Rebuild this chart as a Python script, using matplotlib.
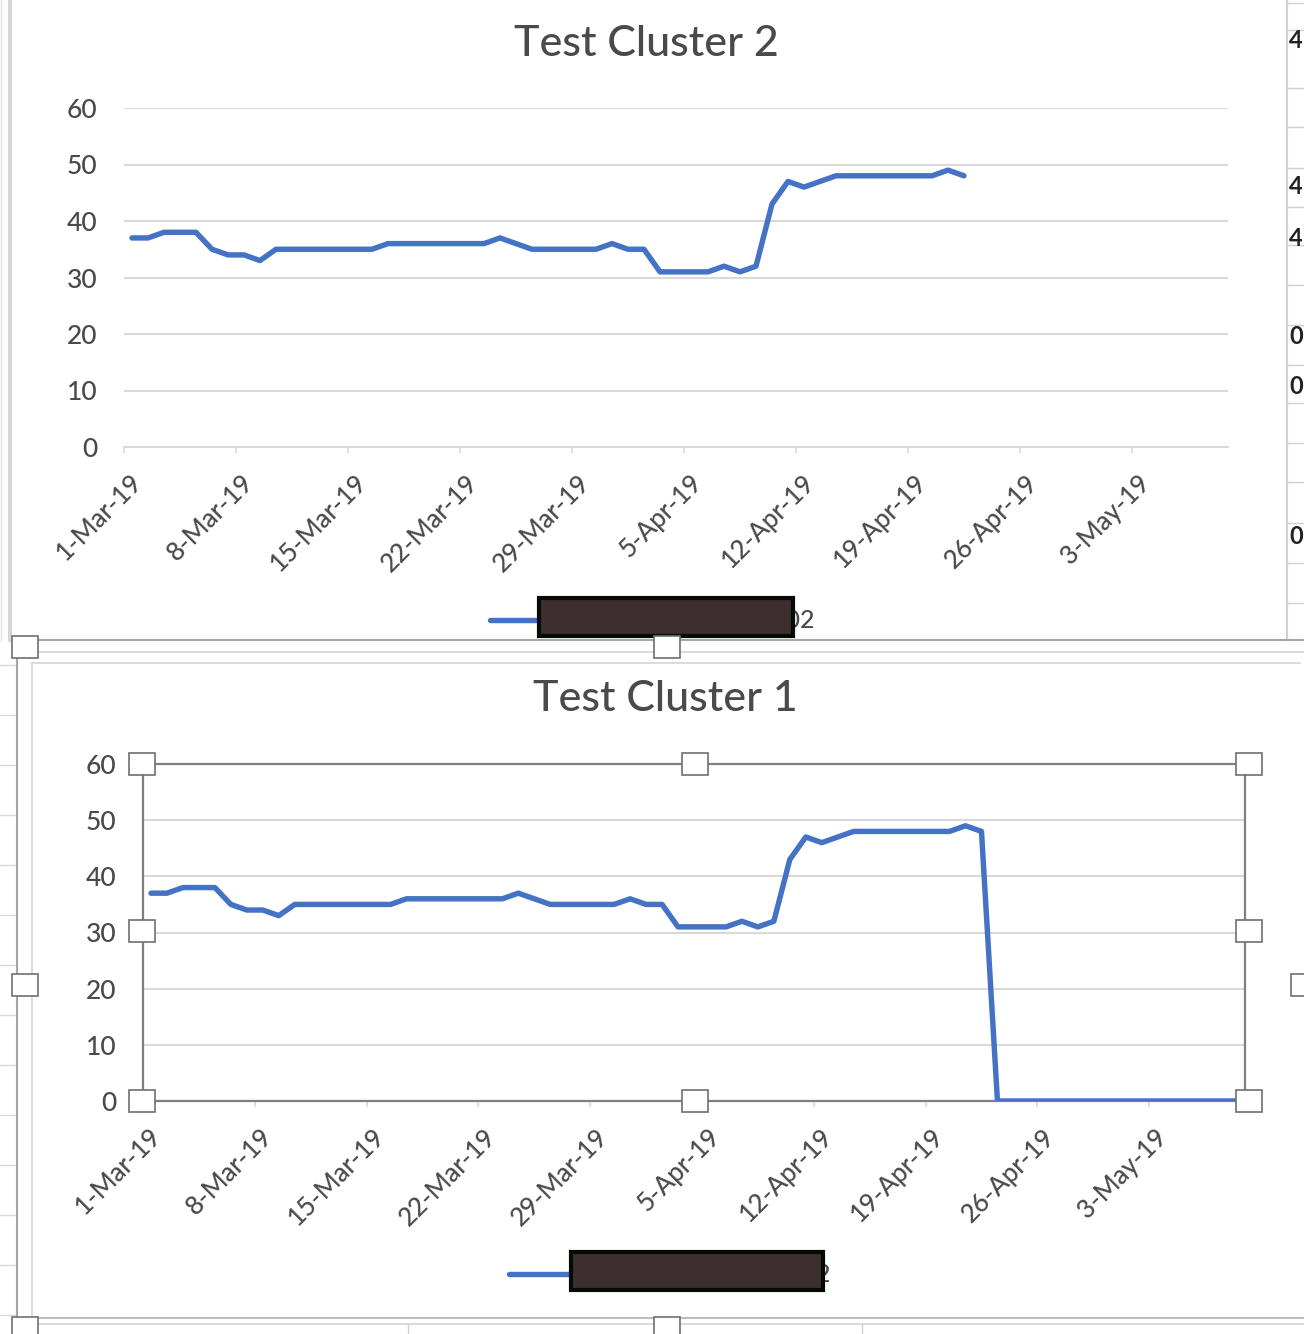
import matplotlib
matplotlib.use('Agg')
import matplotlib.pyplot as plt
from matplotlib.patches import Rectangle

plt.rcParams['font.family'] = ['Lato', 'DejaVu Sans']
plt.rcParams['font.weight'] = 'medium'

# day index 0 = 1-Mar-19, one value per day
tick_days = [0, 7, 14, 21, 28, 35, 42, 49, 56, 63]
tick_labels = ['1-Mar-19', '8-Mar-19', '15-Mar-19', '22-Mar-19', '29-Mar-19',
               '5-Apr-19', '12-Apr-19', '19-Apr-19', '26-Apr-19', '3-May-19']
n_days = 69  # axis runs 1-Mar-19 .. 9-May-19

cluster2_values = [37, 37, 38, 38, 38, 35, 34, 34, 33, 35,
                   35, 35, 35, 35, 35, 35, 36, 36, 36, 36,
                   36, 36, 36, 37, 36, 35, 35, 35, 35, 35,
                   36, 35, 35, 31, 31, 31, 31, 32, 31, 32,
                   43, 47, 46, 47, 48, 48, 48, 48, 48, 48,
                   48, 49, 48]
cluster1_values = [37, 37, 38, 38, 38, 35, 34, 34, 33, 35,
                   35, 35, 35, 35, 35, 35, 36, 36, 36, 36,
                   36, 36, 36, 37, 36, 35, 35, 35, 35, 35,
                   36, 35, 35, 31, 31, 31, 31, 32, 31, 32,
                   43, 47, 46, 47, 48, 48, 48, 48, 48, 48,
                   48, 49, 48, 0, 0, 0, 0, 0, 0, 0,
                   0, 0, 0, 0, 0, 0, 0, 0, 0]
y_ticks = [0, 10, 20, 30, 40, 50, 60]

W, H = 1304, 1334
BLUE = '#4472C4'
GRID = '#d9d9d9'
TXT = '#4a4a4a'


def px_rect(x0, y0, x1, y1):
    return [x0 / W, 1 - y1 / H, (x1 - x0) / W, (y1 - y0) / H]


def draw_chart(ax, values, boxed):
    xs = [d + 0.5 for d in range(len(values))]
    ax.plot(xs, values, color=BLUE, lw=3.9, solid_joinstyle='round', solid_capstyle='round', zorder=3)
    ax.set_xlim(0, n_days)
    ax.set_ylim(0, 60)
    ax.set_yticks(y_ticks)
    ax.set_yticklabels([str(v) for v in y_ticks])
    ax.set_xticks(tick_days)
    ax.set_xticklabels([])
    ax.grid(axis='y', color=GRID, lw=1.5)
    ax.set_axisbelow(True)
    ax.tick_params(axis='y', length=0, pad=19, labelsize=19, labelcolor=TXT)
    ax.tick_params(axis='x', length=4, width=1.2, color=GRID, direction='out')
    for s in ax.spines.values():
        s.set_visible(boxed)
        s.set_color('#7f7f7f')
        s.set_linewidth(1.6)
    if not boxed:
        ax.spines['bottom'].set_visible(True)
        ax.spines['bottom'].set_color(GRID)
        ax.spines['bottom'].set_linewidth(1.5)
    for d, lab in zip(tick_days, tick_labels):
        ax.annotate(lab, xy=(d, 0), xycoords=('data', 'axes fraction'),
                    xytext=(14, -32), textcoords='offset pixels',
                    rotation=45, rotation_mode='anchor', ha='right', va='center',
                    fontsize=18.5, color=TXT)


fig = plt.figure(figsize=(W / 100, H / 100), dpi=100)

ax_top = fig.add_axes(px_rect(124, 108, 1228, 447))
draw_chart(ax_top, cluster2_values, False)

ax_bot = fig.add_axes(px_rect(143, 764, 1245, 1101))
draw_chart(ax_bot, cluster1_values, True)

# overlay for the worksheet bits, frames, titles, legends and handles
ov = fig.add_axes([0, 0, 1, 1], facecolor='none')
ov.set_xlim(0, W)
ov.set_ylim(H, 0)
ov.axis('off')

ov.text(646, 44, 'Test Cluster 2', ha='center', va='center', fontsize=31, color=TXT)
ov.text(665, 699, 'Test Cluster 1', ha='center', va='center', fontsize=31, color=TXT)

# worksheet cells around the charts
ov.plot([10, 10], [0, 640], color='#d6d6d6', lw=3)
ov.plot([1, 1], [0, 640], color='#e4e4e4', lw=1)
ov.plot([1287, 1287], [0, 640], color='#d0d0d0', lw=1.5)
for y in [3, 30, 88, 127, 168, 207, 245, 285, 325, 365, 403, 443, 482, 523, 563, 603]:
    ov.plot([1288, 1304], [y, y], color='#d0d0d0', lw=1)
for y, s in [(40, '4'), (187, '4'), (238, '4'), (337, '0'), (387, '0'), (537, '0')]:
    ov.text(1289, y, s, ha='left', va='center', fontsize=17, color='#222222', fontweight='bold')
for y in range(665, 1320, 50):
    ov.plot([0, 16], [y, y], color='#d8d8d8', lw=1)
for x in [408, 862]:
    ov.plot([x, x], [1325, 1334], color='#cfcfcf', lw=1)

# selected chart frame
ov.plot([25, 1304], [640, 640], color='#a6a6a6', lw=1.5)
ov.plot([32, 1304], [652, 652], color='#d4d4d4', lw=1.2)
ov.plot([32, 1300], [663, 663], color='#d4d4d4', lw=1.2)
ov.plot([17, 17], [655, 1325], color='#a6a6a6', lw=1.5)
ov.plot([32, 32], [663, 1318], color='#d4d4d4', lw=1.2)
ov.plot([25, 1304], [1318, 1318], color='#bdbdbd', lw=1.5)
ov.plot([32, 1304], [1324, 1324], color='#d4d4d4', lw=1.2)

# legends with the series name blacked out
ov.text(815, 620, 'Cluster 02', ha='right', va='center', fontsize=18, color=TXT, zorder=3)
ov.plot([490, 540], [620, 620], color=BLUE, lw=3.9, solid_capstyle='round')
ov.add_patch(Rectangle((539, 598), 254, 38, facecolor='#3d2f2f', edgecolor='#050a05', lw=3, zorder=4))
ov.text(831, 1274, 'Cluster 02', ha='right', va='center', fontsize=18, color=TXT, zorder=3)
ov.plot([509, 572], [1274, 1274], color=BLUE, lw=3.9, solid_capstyle='round')
ov.add_patch(Rectangle((571, 1252), 252, 38, facecolor='#3d2f2f', edgecolor='#050a05', lw=3, zorder=4))

# selection handles
handles = [(25, 647), (667, 647), (25, 985), (1304, 985), (25, 1328), (667, 1328),
           (142, 764), (695, 764), (1249, 764), (142, 931), (1249, 931),
           (142, 1101), (695, 1101), (1249, 1101)]
for hx, hy in handles:
    ov.add_patch(Rectangle((hx - 13, hy - 11), 26, 22, facecolor='white',
                           edgecolor='#6f6f6f', lw=1.2, zorder=5))

fig.savefig('out.png', dpi=100)
